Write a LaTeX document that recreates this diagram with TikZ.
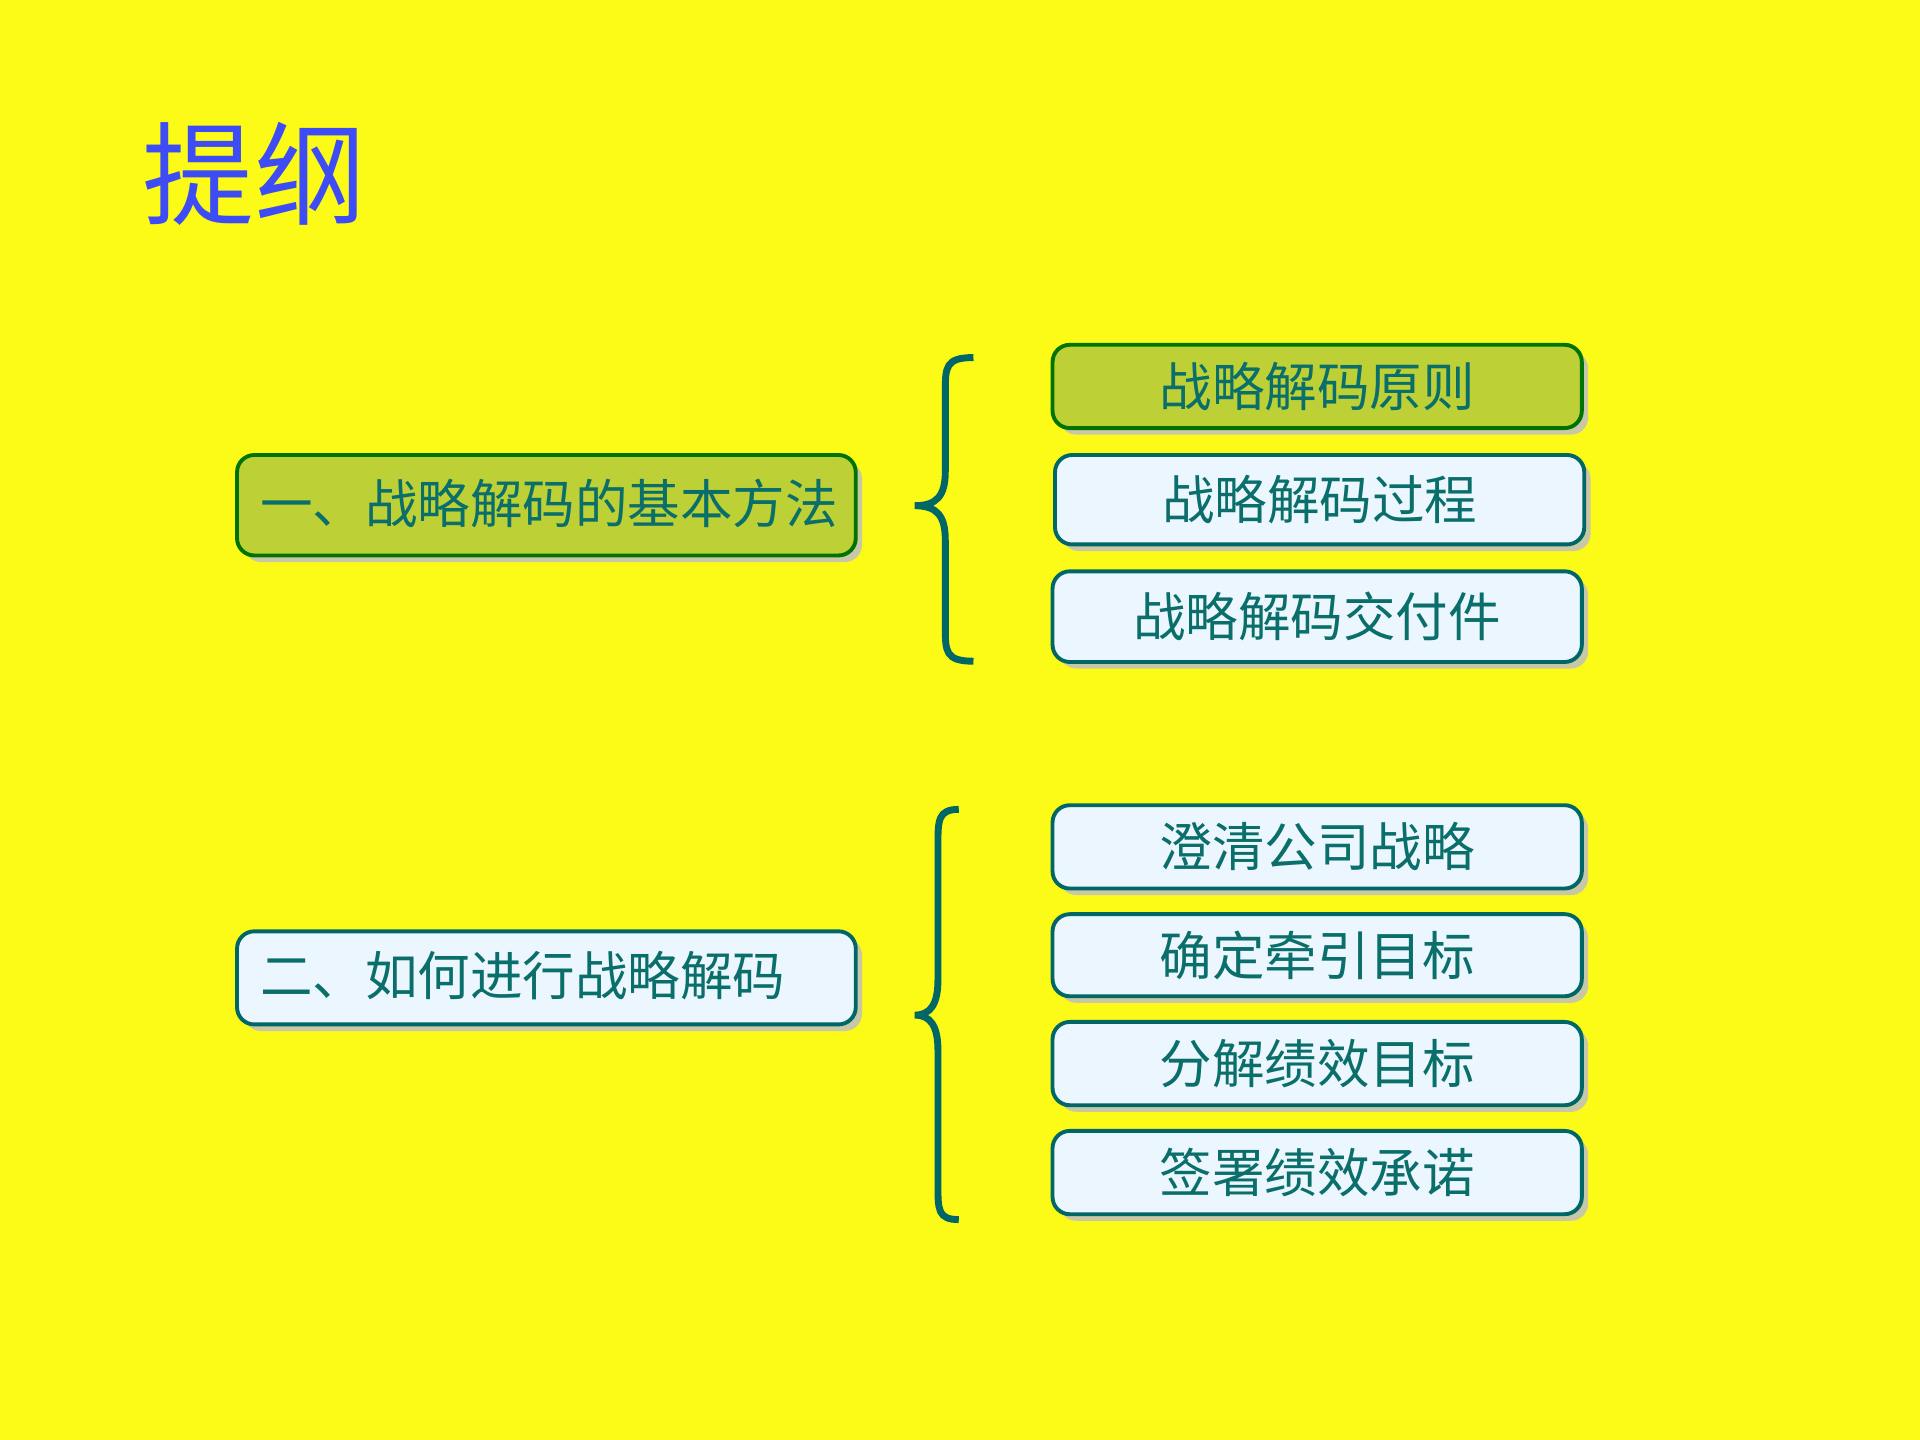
\documentclass[tikz,border=0pt]{standalone}
\usepackage{fontspec}
\setmainfont{Noto Sans CJK SC}
\begin{document}
\begin{tikzpicture}[x=0.01cm,y=-0.01cm,
  box/.style={draw=teal!80!black, line width=0.9pt, rounded corners=4pt, fill=boxfill, text=txt, font=\fontsize{12.2pt}{14pt}\selectfont, inner sep=0pt, anchor=north west},
  hl/.style={fill=olivebox, draw=green!45!black},
  lbl/.style={text=txt, font=\fontsize{12.2pt}{14pt}\selectfont, anchor=west},
  brace/.style={draw=teal!80!black, line width=1.6pt}]
\definecolor{bg}{HTML}{FBFB17}
\definecolor{boxfill}{HTML}{EBF6FF}
\definecolor{olivebox}{HTML}{BDD136}
\definecolor{txt}{HTML}{0A6E6A}
\definecolor{shd}{HTML}{C8C8A8}
\definecolor{ttl}{HTML}{3D4CF5}
\fill[bg] (0,0) rectangle (1568,1176);
\useasboundingbox (0,0) rectangle (1568,1176);
\node[text=ttl, font=\fontsize{26pt}{30pt}\selectfont, anchor=west] (title) at (104,142) {提纲};
% shadows
\foreach \a/\b/\c/\d in {192/370/697/452, 192/759/697/835, 858/280/1290/348, 860/370/1292/443, 858/465/1290/539, 858/656/1290/724, 858/745/1290/812, 858/833/1290/901, 858/922/1290/990}
  \fill[shd, rounded corners=4pt] (\a+7,\b+7) rectangle (\c+7,\d+7);
\node[box,hl,minimum width=5.05cm, minimum height=0.82cm] (a) at (192,370) {};
\node[lbl] (at) at (200,411) {一、战略解码的基本方法};
\node[box,minimum width=5.05cm, minimum height=0.76cm] (b) at (192,759) {};
\node[lbl] (bt) at (200,797) {二、如何进行战略解码};
\node[box,hl,minimum width=4.32cm, minimum height=0.68cm] (r1) at (858,280) {战略解码原则};
\node[box,minimum width=4.32cm, minimum height=0.73cm] (r2) at (860,370) {战略解码过程};
\node[box,minimum width=4.32cm, minimum height=0.74cm] (r3) at (858,465) {战略解码交付件};
\node[box,minimum width=4.32cm, minimum height=0.68cm] (r4) at (858,656) {澄清公司战略};
\node[box,minimum width=4.32cm, minimum height=0.67cm] (r5) at (858,745) {确定牵引目标};
\node[box,minimum width=4.32cm, minimum height=0.68cm] (r6) at (858,833) {分解绩效目标};
\node[box,minimum width=4.32cm, minimum height=0.68cm] (r7) at (858,922) {签署绩效承诺};
% braces
\draw[brace] (795,292) .. controls (772,292) and (772,300) .. (772,320) -- (772,385) .. controls (772,405) and (765,413) .. (747,413)
  .. controls (765,413) and (772,421) .. (772,441) -- (772,512) .. controls (772,532) and (772,540) .. (795,540);
\draw[brace] (783,661) .. controls (766,661) and (766,670) .. (766,690) -- (766,800) .. controls (766,820) and (760,829) .. (747,829)
  .. controls (760,829) and (766,838) .. (766,858) -- (766,968) .. controls (766,988) and (766,996) .. (783,996);
\end{tikzpicture}
\end{document}
